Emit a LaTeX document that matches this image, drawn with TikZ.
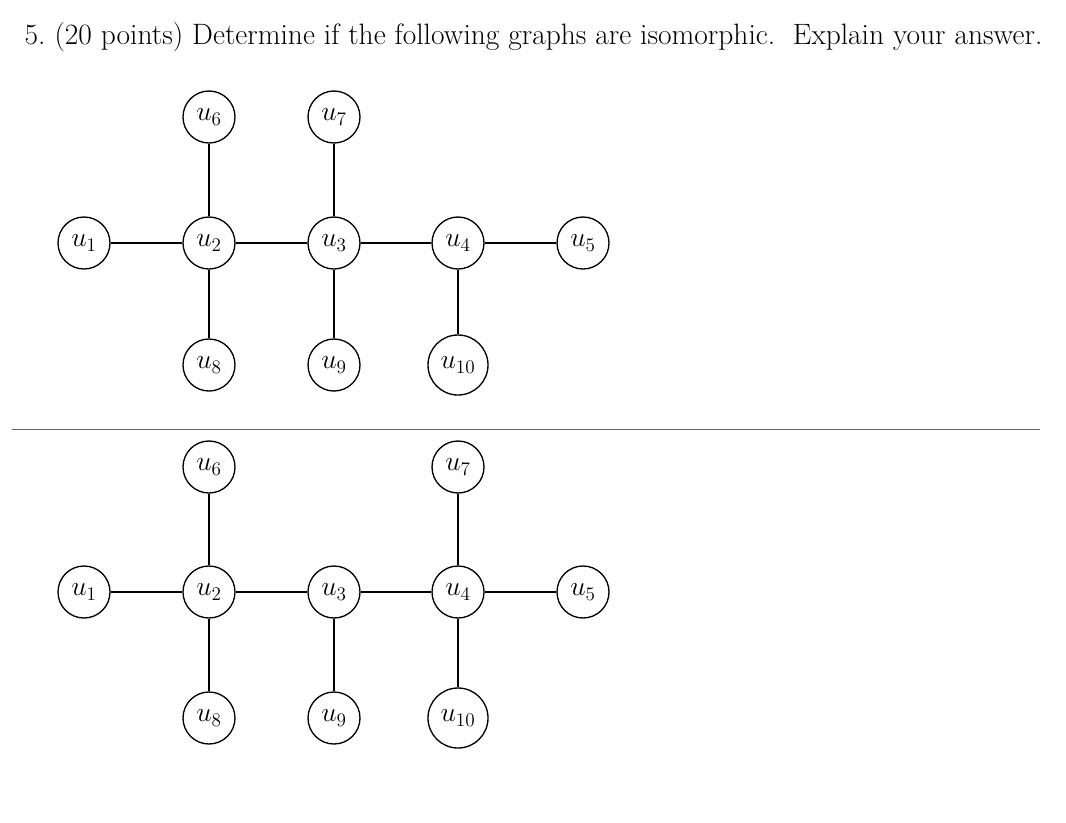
\documentclass[tikz,border=0pt]{standalone}
\begin{document}
\begin{tikzpicture}[x=0.75pt,y=-0.75pt,
  vtx/.style={circle,draw,line width=1pt,minimum size=39pt,inner sep=0pt,font=\fontsize{20}{24}\selectfont},
  big/.style={minimum size=45pt},
  edge/.style={line width=0.9pt}]
\useasboundingbox (0,0) rectangle (1066,822);
\node[anchor=west,font=\fontsize{22.1}{26}\selectfont] (title) at (20,37) {5.\ (20 points) Determine if the following graphs are isomorphic.\ \ Explain your answer.};
% top graph
\node[vtx] (a1) at (84,243) {$u_1$};
\node[vtx] (a2) at (209,243) {$u_2$};
\node[vtx] (a3) at (334,243) {$u_3$};
\node[vtx] (a4) at (458,243) {$u_4$};
\node[vtx] (a5) at (583,243) {$u_5$};
\node[vtx] (a6) at (209,117) {$u_6$};
\node[vtx] (a7) at (334,117) {$u_7$};
\node[vtx] (a8) at (209,365) {$u_8$};
\node[vtx] (a9) at (334,365) {$u_9$};
\node[vtx,big] (a10) at (458,365) {$u_{10}$};
\foreach \p/\q in {a1/a2,a2/a3,a3/a4,a4/a5,a2/a6,a2/a8,a3/a7,a3/a9,a4/a10}
  \draw[edge] (\p) -- (\q);
\coordinate (l1) at (12,429);
\coordinate (l2) at (1040,429);
\draw[line width=0.6pt,gray!80!black] (l1) -- (l2);
% bottom graph
\node[vtx] (b1) at (84,592) {$u_1$};
\node[vtx] (b2) at (209,592) {$u_2$};
\node[vtx] (b3) at (334,592) {$u_3$};
\node[vtx] (b4) at (458,592) {$u_4$};
\node[vtx] (b5) at (583,592) {$u_5$};
\node[vtx] (b6) at (209,467) {$u_6$};
\node[vtx] (b7) at (458,467) {$u_7$};
\node[vtx] (b8) at (209,718) {$u_8$};
\node[vtx] (b9) at (334,718) {$u_9$};
\node[vtx,big] (b10) at (458,718) {$u_{10}$};
\foreach \p/\q in {b1/b2,b2/b3,b3/b4,b4/b5,b2/b6,b2/b8,b4/b7,b3/b9,b4/b10}
  \draw[edge] (\p) -- (\q);
\end{tikzpicture}
\end{document}
